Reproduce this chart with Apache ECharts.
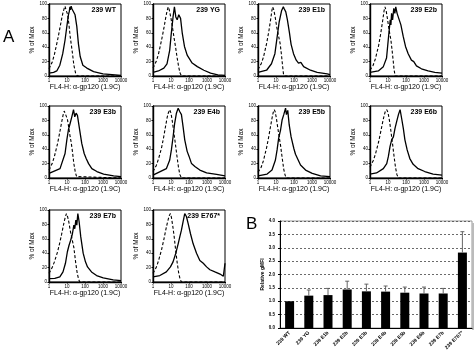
<!DOCTYPE html>
<html><head><meta charset="utf-8">
<script src="https://cdn.jsdelivr.net/npm/echarts@6/dist/echarts.min.js"></script>
<style>html,body{margin:0;padding:0;background:#fff}#c{width:474px;height:358px}</style>
</head><body><div id="c"></div>
<script>
// ---------- data ----------
const panelNames = ["239 WT","239 YG","239 E1b","239 E2b","239 E3b","239 E4b","239 E5b","239 E6b","239 E7b","239 E767*"];
const xAxisTitle = "FL4-H: α-gp120 (1.9C)";
const yAxisTitle = "% of Max";

const wtSolid = [[1,4],[1.8,5],[2.7,7],[4,15],[5.8,31],[7.8,50],[9.7,68],[12,85],[13.5,90],[14.5,96],[15.5,92],[17,97],[19,93],[21,95],[24,91],[28,85],[35,69],[43,45],[54,27],[76,15],[126,11],[300,6],[1000,3],[10000,1]];
const wtDashed = [[1,10],[1.5,19],[2,30],[3,50],[4,66],[5,79],[6,88],[7,94],[7.8,97],[8.5,93],[9.5,95],[11,85],[13,70],[15,55],[17,45],[20,32],[24,15],[30,4],[38,0],[10000,0]];

const ygSolid = [[1,5],[2,7],[4,11],[6,17],[8.5,36],[10,55],[13,82],[15.5,96],[18.5,82],[22,78],[27,85],[34,80],[42,60],[56,41],[79,29],[150,18],[290,13],[670,8],[1580,4],[4000,1.5],[10000,1]];
const ygDashed = [[1,11],[1.5,20],[2,30],[3,50],[4,66],[5,80],[6,90],[7,96],[8,92],[10,80],[12.5,65],[15,52],[18,40],[22,25],[27,12],[32,4],[38,0],[10000,0]];

const e1bSolid = [[1,5],[3,8],[5.6,17],[8.7,31],[11.7,55],[15,75],[20.6,91],[25.6,96],[29,93],[35,89],[43,78],[56,60],[62,52],[66,50],[69,44],[94,31],[133,22],[178,18],[240,19],[343,13],[820,8],[1940,5],[7000,3],[10000,2]];
const e1bDashed = [[1,9],[1.5,17],[2,26],[3,45],[4,62],[5,78],[6,92],[6.5,96],[7.5,92],[9,82],[11,68],[14,55],[17,45],[20,30],[23,15],[26,3],[30,0],[10000,0]];

const e2bSolid = [[1,5],[2.9,7],[5.5,13],[8.3,25],[10.3,50],[11.7,64],[13.3,78],[14.5,71],[15.8,87],[18,78],[21,94],[24,87],[27,96],[32,87],[40,89],[52,71],[70,55],[94,41],[132,31],[200,22],[270,20],[380,14],[720,10],[1700,7],[4000,5],[10000,4]];
const e2bDashed = [[1,8],[1.5,15],[2,24],[3,42],[4,60],[5,76],[6,90],[6.8,96],[8,90],[9.5,78],[11.5,64],[14.5,50],[17,35],[20,18],[22,8],[25,0],[10000,0]];

const e3bSolid = [[1,6.5],[4.1,13],[7.8,34],[9.8,53],[12,67],[15,76],[18.5,85],[23,95],[27,85],[32,90],[38,87],[49,69],[66,48],[90,34],[116,27],[158,20],[240,13],[457,9],[1080,5.5],[3900,3],[10000,2]];
const e3bDashed = [[1,11],[1.5,20],[2,30],[3,48],[4,64],[5,77],[6,87],[7,93],[8,95],[9,91],[10.5,82],[12.5,70],[15,57],[17,50],[20,37],[24,20],[29,8],[34,2],[40,0],[10000,0]];

const e4bSolid = [[1,4],[5.5,13],[8.5,25],[10.5,39],[13,57],[16,76],[20,90],[25,97],[31,92],[38,88],[47,71],[58,53],[79,37],[101,30],[138,20],[212,16],[400,11],[950,7],[3400,5],[10000,3]];
const e4bDashed = [[1,9],[1.5,17],[2,26],[3,42],[4,58],[5,72],[6,83],[7,90],[8.5,95],[10,90],[12,78],[14,65],[17,50],[21,32],[26,15],[31,5],[38,0],[10000,0]];

const e5bSolid = [[1,3],[3.2,5.5],[6,11],[9.3,25],[11.5,39],[14,55],[18,67],[22,81],[27,88],[34,97],[38,88],[45,94],[54,74],[69,57],[98,41],[121,33],[163,26],[230,18],[440,11],[1030,6.5],[3000,3],[10000,2]];
const e5bDashed = [[1,8],[1.5,15],[2,24],[3,42],[4,58],[5,72],[6,83],[7,91],[8,95],[9,92],[10.5,83],[12.5,70],[15,57],[18,45],[22,28],[27,12],[32,4],[38,0],[10000,0]];

const e6bSolid = [[1,5.5],[2.3,7],[5.5,13],[8.5,20],[10.5,30],[13,44],[16,53],[20,57],[24.5,69],[30,78],[38,88],[47,95],[57,83],[71,69],[87,53],[116,39],[163,27],[250,19],[470,13],[1100,9],[3200,5.5],[10000,4]];
const e6bDashed = [[1,15],[1.5,24],[2,33],[3,50],[4,65],[5,77],[6,86],[7,92],[8.5,95],[10,91],[12,80],[14,68],[17,52],[21,33],[26,15],[31,5],[38,0],[10000,0]];

const e7bSolid = [[1,4.7],[2.1,5],[4,7],[6,14],[8.2,26],[10.5,42],[13,51],[16,58],[20,67],[24,79],[27,74],[31,86],[35,79],[40,95],[47,84],[58,63],[79,40],[106,28],[138,21],[230,14],[440,9],[1030,5.6],[3700,3],[10000,2]];
const e7bDashed = [[1,12],[1.5,20],[2,28],[3,42],[4,55],[5,66],[6,76],[7,84],[8,90],[9.3,95],[10.5,92],[12.5,84],[15,72],[19,60],[24,48],[30,28],[37,12],[45,3],[52,0],[10000,0]];

const e767Solid = [[1,7],[2.4,9],[5.5,14],[9.3,21],[13,28],[18.5,40],[25,53],[31,63],[38,72],[47,84],[58,95],[72,91],[90,81],[121,67],[170,53],[262,40],[400,30],[620,26],[950,21],[1450,17],[2760,14],[5300,11],[8100,8],[9800,7],[10000,26]];
const e767Dashed = [[1,12],[1.5,20],[2,29],[3,45],[4,59],[5,71],[6,80],[7,87],[8,92],[9.3,95],[10.5,90],[12.5,78],[15,63],[18,45],[22,27],[27,12],[32,4],[38,0],[10000,0]];

const solidSeries = [wtSolid, ygSolid, e1bSolid, e2bSolid, e3bSolid, e4bSolid, e5bSolid, e6bSolid, e7bSolid, e767Solid];
const dashedSeries = [wtDashed, ygDashed, e1bDashed, e2bDashed, e3bDashed, e4bDashed, e5bDashed, e6bDashed, e7bDashed, e767Dashed];

const barCategories = ["239 WT","239 YG","239 E1b","239 E2b","239 E3b","239 E4b","239 E5b","239 E6b","239 E7b","239 E767*"];
const barValues = [1.0, 1.21, 1.23, 1.44, 1.37, 1.36, 1.32, 1.29, 1.29, 2.82];
const barErrors = [0, 0.21, 0.25, 0.31, 0.27, 0.21, 0.21, 0.24, 0.19, 0.78];

// ---------- layout ----------
const FONT = 'Arial, "Liberation Sans", sans-serif';
const colLeft = [49, 153, 258, 370];
const rowTop = [4, 106, 210];
const PW = 72, PH = 72;

const grids = [], xAxes = [], yAxes = [], series = [], titles = [];
panelNames.forEach((name, i) => {
  const r = Math.floor(i / 4), c = i % 4;
  const left = colLeft[c], top = rowTop[r];
  grids.push({left: left, top: top, width: PW, height: PH, show: true, borderColor: '#000', borderWidth: 1, backgroundColor: '#fff'});
  xAxes.push({
    type: 'log', logBase: 10, gridIndex: i, min: 1, max: 10000,
    name: xAxisTitle, nameLocation: 'middle', nameGap: 8,
    nameTextStyle: {fontSize: 7, color: '#000', fontFamily: FONT},
    axisLine: {lineStyle: {color: '#000', width: 1.4}},
    axisTick: {show: true, length: 1.5, lineStyle: {color: '#000'}},
    minorTick: {show: false},
    splitLine: {show: false},
    axisLabel: {fontSize: 4.5, color: '#000', margin: 2, fontFamily: FONT, formatter: v => String(Math.round(v)), showMinLabel: true, showMaxLabel: true}
  });
  yAxes.push({
    type: 'value', gridIndex: i, min: 0, max: 100, interval: 20,
    name: yAxisTitle, nameLocation: 'middle', nameGap: 10, nameRotate: 90,
    nameTextStyle: {fontSize: 6.5, color: '#000', fontFamily: FONT},
    axisLine: {show: true, lineStyle: {color: '#000', width: 1.4}},
    axisTick: {show: true, length: 1.5, lineStyle: {color: '#000'}},
    splitLine: {show: false},
    axisLabel: {fontSize: 4.5, color: '#000', margin: 2, fontFamily: FONT}
  });
  titles.push({text: name, right: 474 - (left + PW - 5), top: top + 3, padding: 0,
    textStyle: {fontSize: 7, fontWeight: 'bold', color: '#000', fontFamily: FONT}});
  series.push({type: 'line', xAxisIndex: i, yAxisIndex: i, data: dashedSeries[i], showSymbol: false, silent: true,
    lineStyle: {color: '#000', width: 1.1, type: [3, 2]}, z: 3});
  series.push({type: 'line', xAxisIndex: i, yAxisIndex: i, data: solidSeries[i], showSymbol: false, silent: true,
    lineStyle: {color: '#000', width: 1.3}, z: 4});
});

// bar chart
const bi = panelNames.length;
grids.push({left: 280, top: 221, width: 192, height: 107, show: true, borderColor: '#999', borderWidth: 1});
xAxes.push({
  type: 'category', gridIndex: bi, data: barCategories,
  axisLine: {lineStyle: {color: '#000', width: 1}},
  axisTick: {show: false},
  axisLabel: {interval: 0, rotate: 45, fontSize: 5, fontWeight: 'bold', color: '#000', margin: 4, fontFamily: FONT}
});
yAxes.push({
  type: 'value', gridIndex: bi, min: 0, max: 4, interval: 0.5,
  name: 'Relative gMFI', nameLocation: 'middle', nameGap: 15, nameRotate: 90,
  nameTextStyle: {fontSize: 5, fontWeight: 'bold', color: '#000', fontFamily: FONT},
  axisLine: {show: true, lineStyle: {color: '#000', width: 1}},
  axisTick: {show: true, length: 2, lineStyle: {color: '#000'}},
  splitLine: {show: true, lineStyle: {color: '#444', width: 0.8, type: [2, 2]}},
  axisLabel: {fontSize: 4.5, fontWeight: 'bold', color: '#000', margin: 5, fontFamily: FONT, formatter: v => v.toFixed(1)}
});
series.push({type: 'bar', xAxisIndex: bi, yAxisIndex: bi, data: barValues, barWidth: 9, itemStyle: {color: '#000'}, silent: true, z: 3});
series.push({
  type: 'custom', xAxisIndex: bi, yAxisIndex: bi, silent: true, z: 4,
  data: barValues.map((v, i) => [i, v, v + barErrors[i]]),
  encode: {x: 0, y: [1, 2]},
  renderItem: function (params, api) {
    const lo = api.value(1), hi = api.value(2);
    if (hi <= lo) return null;
    const p0 = api.coord([api.value(0), lo]);
    const p1 = api.coord([api.value(0), hi]);
    const w = 2;
    return {type: 'group', children: [
      {type: 'line', shape: {x1: p0[0], y1: p0[1], x2: p1[0], y2: p1[1]}, style: {stroke: '#555', lineWidth: 0.9}},
      {type: 'line', shape: {x1: p1[0] - w, y1: p1[1], x2: p1[0] + w, y2: p1[1]}, style: {stroke: '#555', lineWidth: 0.9}}
    ]};
  }
});

const chart = echarts.init(document.getElementById('c'), null, {renderer: 'canvas'});
chart.setOption({
  animation: false,
  backgroundColor: '#fff',
  title: titles,
  grid: grids,
  xAxis: xAxes,
  yAxis: yAxes,
  series: series,
  graphic: [
    {type: 'text', left: 3, top: 29, style: {text: 'A', fontSize: 17, fontFamily: FONT, fill: '#000'}},
    {type: 'text', left: 246, top: 216, style: {text: 'B', fontSize: 17, fontFamily: FONT, fill: '#000'}},
    {type: 'rect', left: 472, top: 223, shape: {width: 2, height: 107}, style: {fill: '#bbb'}}
  ]
});
</script>
</body></html>
